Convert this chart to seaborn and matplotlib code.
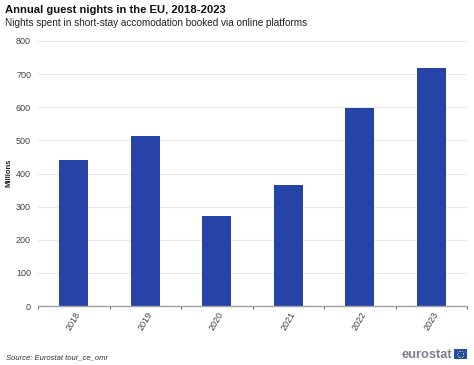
import matplotlib.pyplot as plt
import matplotlib.patches as patches
import numpy as np
import pandas as pd
import seaborn as sns

YEARS = ["2018", "2019", "2020", "2021", "2022", "2023"]
NIGHTS = [441, 513, 272, 365, 597, 718]
Y_TICKS = [0, 100, 200, 300, 400, 500, 600, 700, 800]

W, H = 474, 365

sns.set_style("white")
plt.rcParams["font.family"] = ["Liberation Sans", "DejaVu Sans"]

df = pd.DataFrame({"year": YEARS, "nights": NIGHTS})

fig = plt.figure(figsize=(W / 100, H / 100), dpi=100)
ax = fig.add_axes([38 / W, 1 - 306 / H, (467 - 38) / W, (306 - 41) / H])

sns.barplot(data=df, x="year", y="nights", color="#2644A7", saturation=1, width=0.4,
            linewidth=0, ax=ax)

ax.set_ylim(0, 800)
ax.set_xlim(-0.5, 5.5)
ax.set_yticks(Y_TICKS)
ax.set_axisbelow(True)
ax.yaxis.grid(True, color="#E8E8E8", linewidth=0.8)
ax.xaxis.grid(False)
for side in ["top", "right", "left"]:
    ax.spines[side].set_visible(False)
ax.spines["bottom"].set_color("#A0A0A0")
ax.spines["bottom"].set_linewidth(1.0)

# ticks sit between the bars on the category edges
ax.set_xticks(np.arange(-0.5, 6, 1), minor=True)
ax.tick_params(axis="x", which="minor", bottom=True, length=2, width=0.7, color="#606060",
               direction="out")
ax.tick_params(axis="x", which="major", bottom=False, length=0, pad=3, labelsize=6.5,
               labelcolor="#444444")
ax.tick_params(axis="y", length=0, pad=5, labelsize=6.5, labelcolor="#444444")
plt.setp(ax.get_xticklabels(), rotation=60, ha="center", va="top")

ax.set_xlabel("")
ax.set_ylabel("")
fig.text(9 / W, 1 - 173 / H, "Millions", fontsize=5.5, fontweight="bold", color="#222222",
         rotation=90, ha="center", va="center")

fig.text(5 / W, 1 - 10 / H, "Annual guest nights in the EU, 2018-2023", fontsize=8.1,
         fontweight="bold", color="#111111", va="center")
fig.text(5 / W, 1 - 23 / H, "Nights spent in short-stay accomodation booked via online platforms",
         fontsize=7.2, color="#222222", va="center")
fig.text(6 / W, 1 - 358 / H, "Source: Eurostat tour_ce_omr", fontsize=5.5, style="italic",
         color="#333333", va="center")

# eurostat logo
fig.text(452.5 / W, 1 - 354.5 / H, "eurostat", fontsize=9.3, fontweight="bold", color="#7A7F8C",
         ha="right", va="center")
fig.add_artist(patches.Rectangle((453.5 / W, 1 - 359 / H), 13.5 / W, 10 / H,
                                 transform=fig.transFigure, facecolor="#1F4FA8", edgecolor="none"))
angles = np.linspace(0, 2 * np.pi, 12, endpoint=False)
fig.add_artist(plt.Line2D((460.2 + 3 * np.cos(angles)) / W, 1 - (354 + 3 * np.sin(angles)) / H,
                          transform=fig.transFigure, linestyle="none", marker="o",
                          markersize=0.6, color="#D9C84A", markeredgewidth=0))

fig.savefig("out.png", dpi=100)
